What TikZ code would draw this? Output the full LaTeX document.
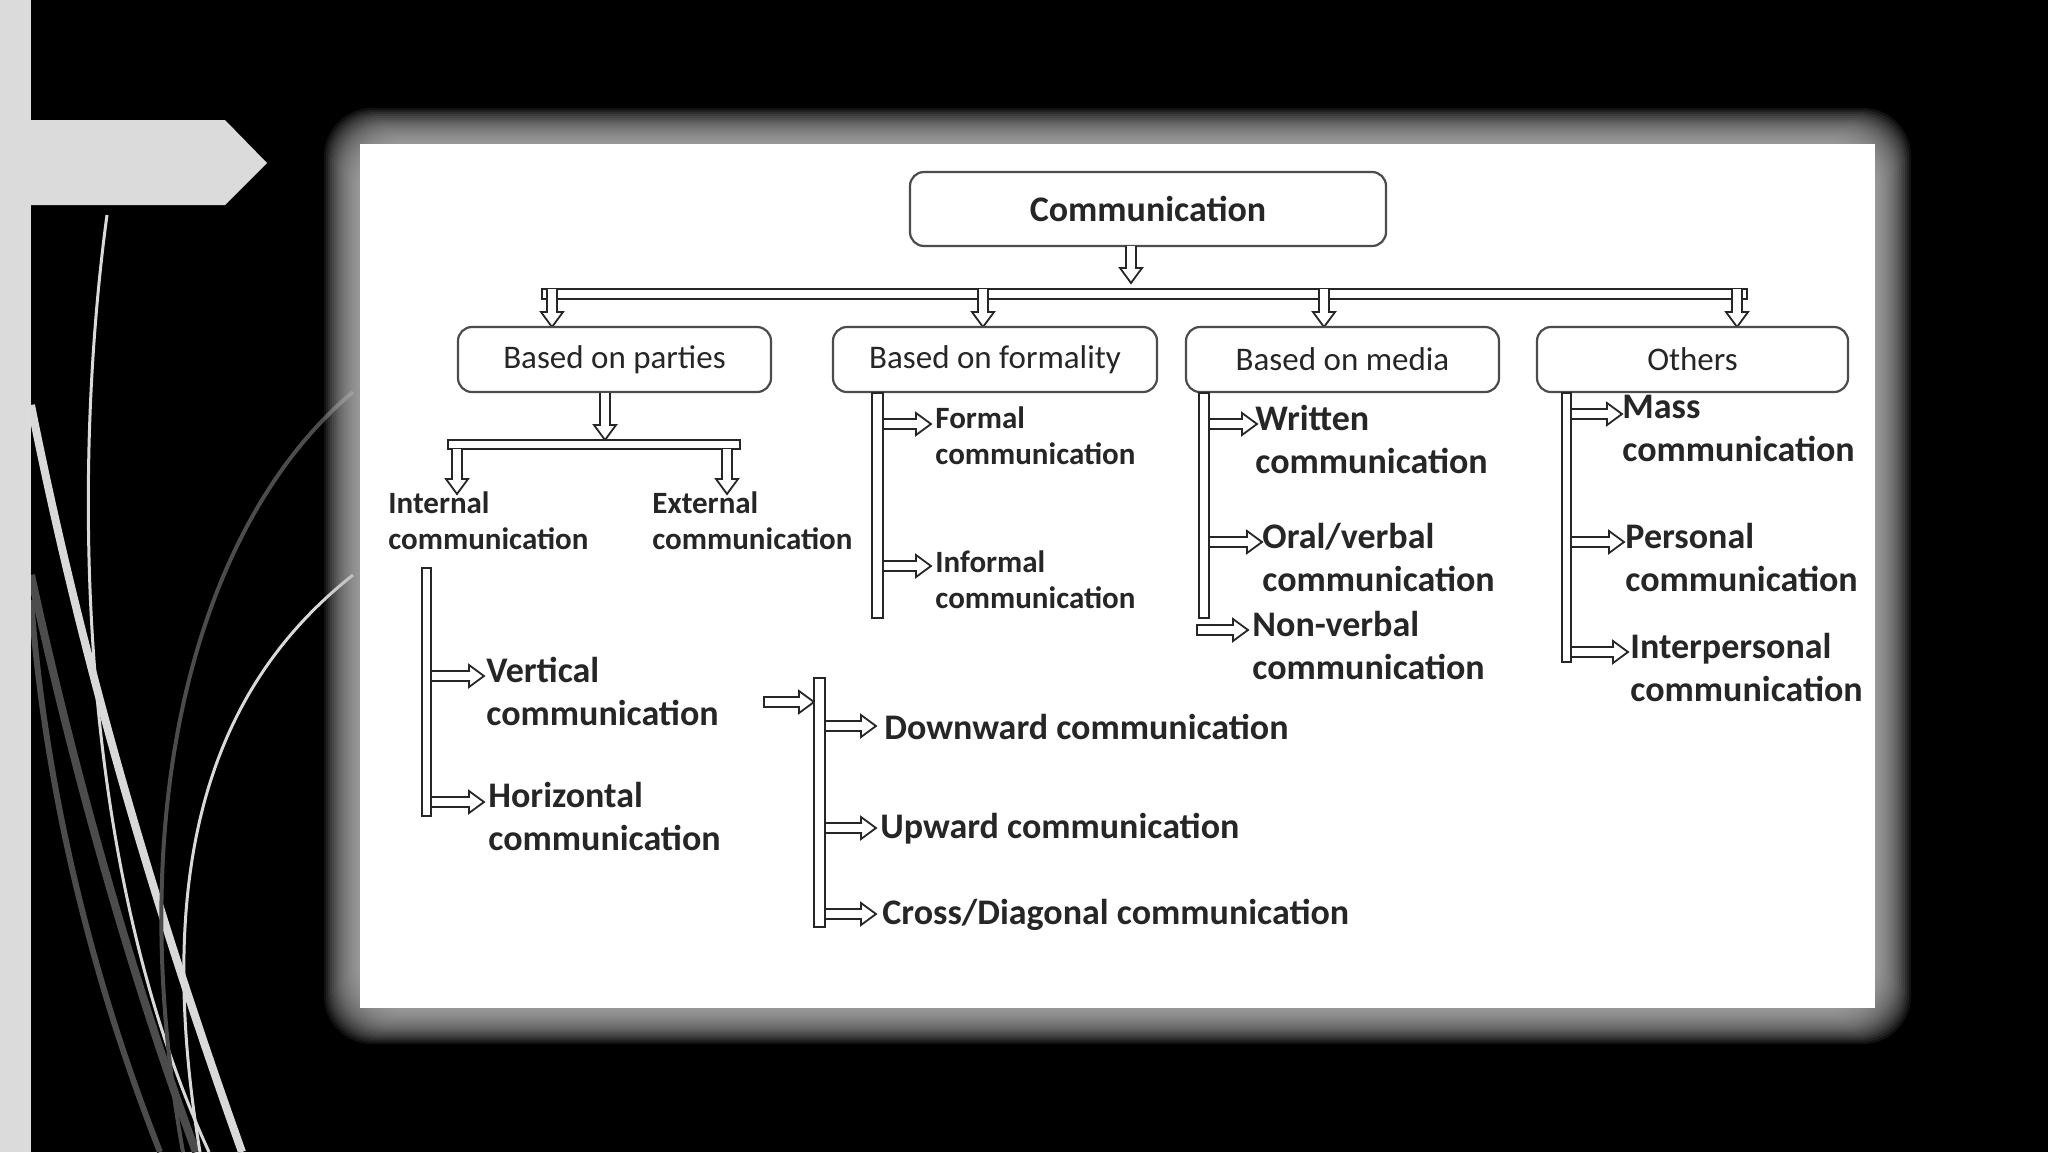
\documentclass[tikz,border=0pt]{standalone}
\usepackage{fontspec}
\setmainfont{Carlito}
\usetikzlibrary{arrows.meta}
\newcommand\hdown[3]{\draw[harr] (#1-5,#2) -- (#1-5,#3-15) -- (#1-11,#3-15) -- (#1,#3) -- (#1+11,#3-15) -- (#1+5,#3-15) -- (#1+5,#2);}
\newcommand\hright[3]{\draw[harr] (#1,#3-5) -- (#2-15,#3-5) -- (#2-15,#3-11) -- (#2,#3) -- (#2-15,#3+11) -- (#2-15,#3+5) -- (#1,#3+5) -- cycle;}
\begin{document}
\begin{tikzpicture}[x=0.5pt,y=-0.5pt,
  harr/.style={draw=black!85,line width=0.9pt,fill=white,line join=miter},
  bar/.style={draw=black!85,line width=0.9pt,fill=white},
  cbox/.style={draw=black!70,line width=1.1pt,rounded corners=7pt,fill=white},
  boxtxt/.style={font=\fontsize{16.5}{18}\selectfont,text=black!85},
  big/.style={font=\bfseries\fontsize{18}{21.5}\selectfont,text=black!85,anchor=north west,align=left,inner sep=0pt},
  small/.style={font=\bfseries\fontsize{15.5}{18}\selectfont,text=black!85,anchor=north west,align=left,inner sep=0pt}]
\useasboundingbox (0,0) rectangle (2048,1152);
\fill[black] (0,0) rectangle (2048,1152);
% decorative curves
\draw[white!85!black,line width=4pt] (31,405) .. controls (90,700) and (170,950) .. (242,1152);
\draw[white!85!black,line width=1.5pt] (107,215) .. controls (75,450) and (70,850) .. (209,1152);
\draw[black!70,line width=4pt] (31,575) .. controls (80,800) and (140,1000) .. (196,1152);
\draw[black!70,line width=3pt] (31,600) .. controls (50,850) and (120,1050) .. (160,1152);
\draw[black!70,line width=2pt] (353,392) .. controls (200,520) and (120,800) .. (183,1152);
\draw[white!85!black,line width=1.5pt] (353,575) .. controls (220,680) and (150,850) .. (200,1152);
% left bar and pennant
\fill[white!86!black] (0,0) rectangle (31,1152);
\fill[white!86!black] (31,120) -- (225,120) -- (267,163) -- (225,205) -- (31,205) -- cycle;
% glow
\foreach \e in {36,34,...,0}
  \fill[white!75!black,opacity=0.09,rounded corners=24pt] (360-\e,144-\e) rectangle (1875+\e,1008+\e);
\fill[white] (360,144) rectangle (1875,1008);
% top box
\node[cbox,minimum width=238pt,minimum height=37pt,font=\bfseries\fontsize{18}{20}\selectfont,text=black!85] (comm) at (1148,209) {Communication};
\hdown{1131}{246}{283}
\draw[bar] (542,289) rectangle (1747,299);
\foreach \x in {552,983,1324,1737} {\hdown{\x}{289}{327}}
\node[cbox,boxtxt,minimum width=156.5pt,minimum height=32.5pt] (parties) at (614.5,359.5) {Based on parties};
\node[cbox,boxtxt,minimum width=162pt,minimum height=32.5pt] (formal) at (995,359.5) {Based on formality};
\node[cbox,boxtxt,minimum width=156.5pt,minimum height=32.5pt] (media) at (1342.5,359.5) {Based on media};
\node[cbox,boxtxt,minimum width=155.5pt,minimum height=32.5pt] (others) at (1692.5,359.5) {Others};
% parties
\hdown{605}{393}{440}
\draw[bar] (448,440) rectangle (740,449);
\hdown{457}{449}{494}
\hdown{727}{449}{494}
\node[small] (internal) at (388,491) {Internal\\communication};
\node[small] (external) at (652,491) {External\\communication};
\draw[bar] (422,568) rectangle (431,816);
\hright{431}{484}{676}
\hright{431}{484}{802}
\node[big] (vert) at (486,657) {Vertical\\communication};
\node[big] (horiz) at (488,782) {Horizontal\\communication};
\hright{764}{814}{702}
\draw[bar] (814,678) rectangle (825,927);
\hright{825}{876}{726}
\hright{825}{876}{828}
\hright{825}{876}{914}
\node[big,anchor=west] (down) at (884,727) {Downward communication};
\node[big,anchor=west] (up) at (880,829) {Upward communication};
\node[big,anchor=west] (cross) at (882,915) {Cross/Diagonal communication};
% formality
\draw[bar] (872,393) rectangle (883,618);
\hright{883}{931}{424}
\hright{883}{931}{566}
\node[small] (formalc) at (935,406) {Formal\\communication};
\node[small] (informal) at (935,550) {Informal\\communication};
% media
\draw[bar] (1199,393) rectangle (1209,618);
\hright{1209}{1257}{424}
\hright{1209}{1262}{542}
\hright{1197}{1248}{630}
\node[big] (written) at (1255,405) {Written\\communication};
\node[big] (oral) at (1262,523) {Oral/verbal\\communication};
\node[big] (nonverbal) at (1252,611) {Non-verbal\\communication};
% others
\draw[bar] (1562,393) rectangle (1571,662);
\hright{1571}{1622}{414}
\hright{1571}{1624}{542}
\hright{1571}{1628}{652}
\node[big] (mass) at (1622,395) {Mass\\communication};
\node[big] (personal) at (1625,523) {Personal\\communication};
\node[big] (inter) at (1630,633) {Interpersonal\\communication};
\end{tikzpicture}
\end{document}
